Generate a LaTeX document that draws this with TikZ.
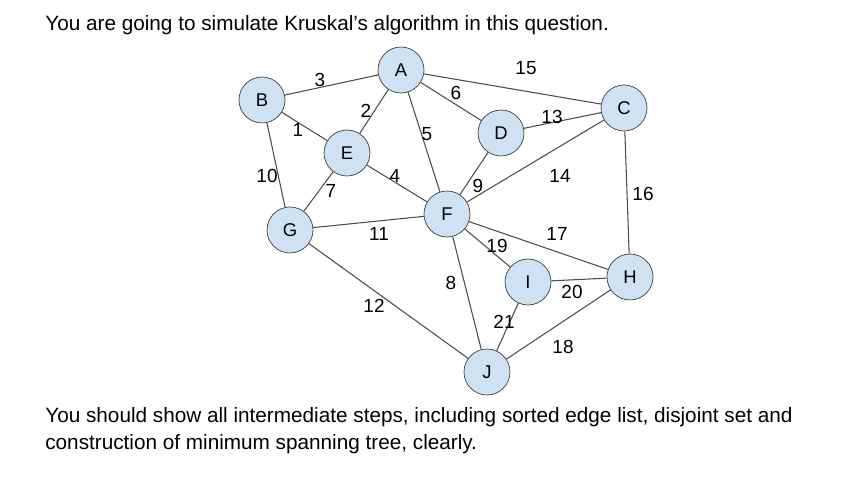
\documentclass[tikz,border=0pt]{standalone}
\usepackage{fontspec}
\setmainfont{Liberation Sans}
\usetikzlibrary{positioning}
\definecolor{nodeblue}{RGB}{207,226,243}
\begin{document}
\begin{tikzpicture}[x=0.02cm,y=-0.02cm]
    \tikzset{
        vert/.style={circle, draw=black!75, fill=nodeblue, minimum size=0.92cm, inner sep=0pt, font=\fontsize{10.5}{12}\selectfont},
        lbl/.style={inner sep=0pt, font=\fontsize{10.8}{12}\selectfont},
        txt/.style={anchor=west, inner sep=0pt, font=\fontsize{11.8}{14}\selectfont},
        edge line/.style={draw=black!70, line width=0.6pt},
    }
    \useasboundingbox (0,0) rectangle (855,492);

    \node[txt] (title) at (45,25) {You are going to simulate Kruskal’s algorithm in this question.};
    \node[txt] (note1) at (45,417) {You should show all intermediate steps, including sorted edge list, disjoint set and};
    \node[txt] (note2) at (45,444) {construction of minimum spanning tree, clearly.};

    \node[vert] (A) at (401,70) {A};
    \node[vert] (B) at (262,100) {B};
    \node[vert] (C) at (624,108) {C};
    \node[vert] (D) at (501,133) {D};
    \node[vert] (E) at (347,153) {E};
    \node[vert] (F) at (447,214) {F};
    \node[vert] (G) at (290,230) {G};
    \node[vert] (H) at (630,277) {H};
    \node[vert] (I) at (528,282) {I};
    \node[vert] (J) at (487,372) {J};

    \foreach \u/\v in {B/A, B/E, A/E, A/F, A/D, A/C, D/C, D/F, F/C, E/F, E/G, B/G, G/F, G/J, F/J, F/I, F/H, C/H, I/H, I/J, J/H}
        \draw[edge line] (\u) -- (\v);

    \node[lbl] (w3) at (320,80) {3};
    \node[lbl] (w2) at (366,111) {2};
    \node[lbl] (w1) at (298,130) {1};
    \node[lbl] (w6) at (456,93) {6};
    \node[lbl] (w15) at (526,68) {15};
    \node[lbl] (w13) at (552,117) {13};
    \node[lbl] (w5) at (427,134) {5};
    \node[lbl] (w9) at (478,186) {9};
    \node[lbl] (w14) at (560,176) {14};
    \node[lbl] (w4) at (395,176) {4};
    \node[lbl] (w10) at (267,176) {10};
    \node[lbl] (w7) at (331,191) {7};
    \node[lbl] (w16) at (643,194) {16};
    \node[lbl] (w11) at (379,234) {11};
    \node[lbl] (w17) at (557,234) {17};
    \node[lbl] (w19) at (497,246) {19};
    \node[lbl] (w8) at (451,283) {8};
    \node[lbl] (w20) at (572,292) {20};
    \node[lbl] (w12) at (374,306) {12};
    \node[lbl] (w21) at (504,322) {21};
    \node[lbl] (w18) at (563,347) {18};
\end{tikzpicture}
\end{document}
